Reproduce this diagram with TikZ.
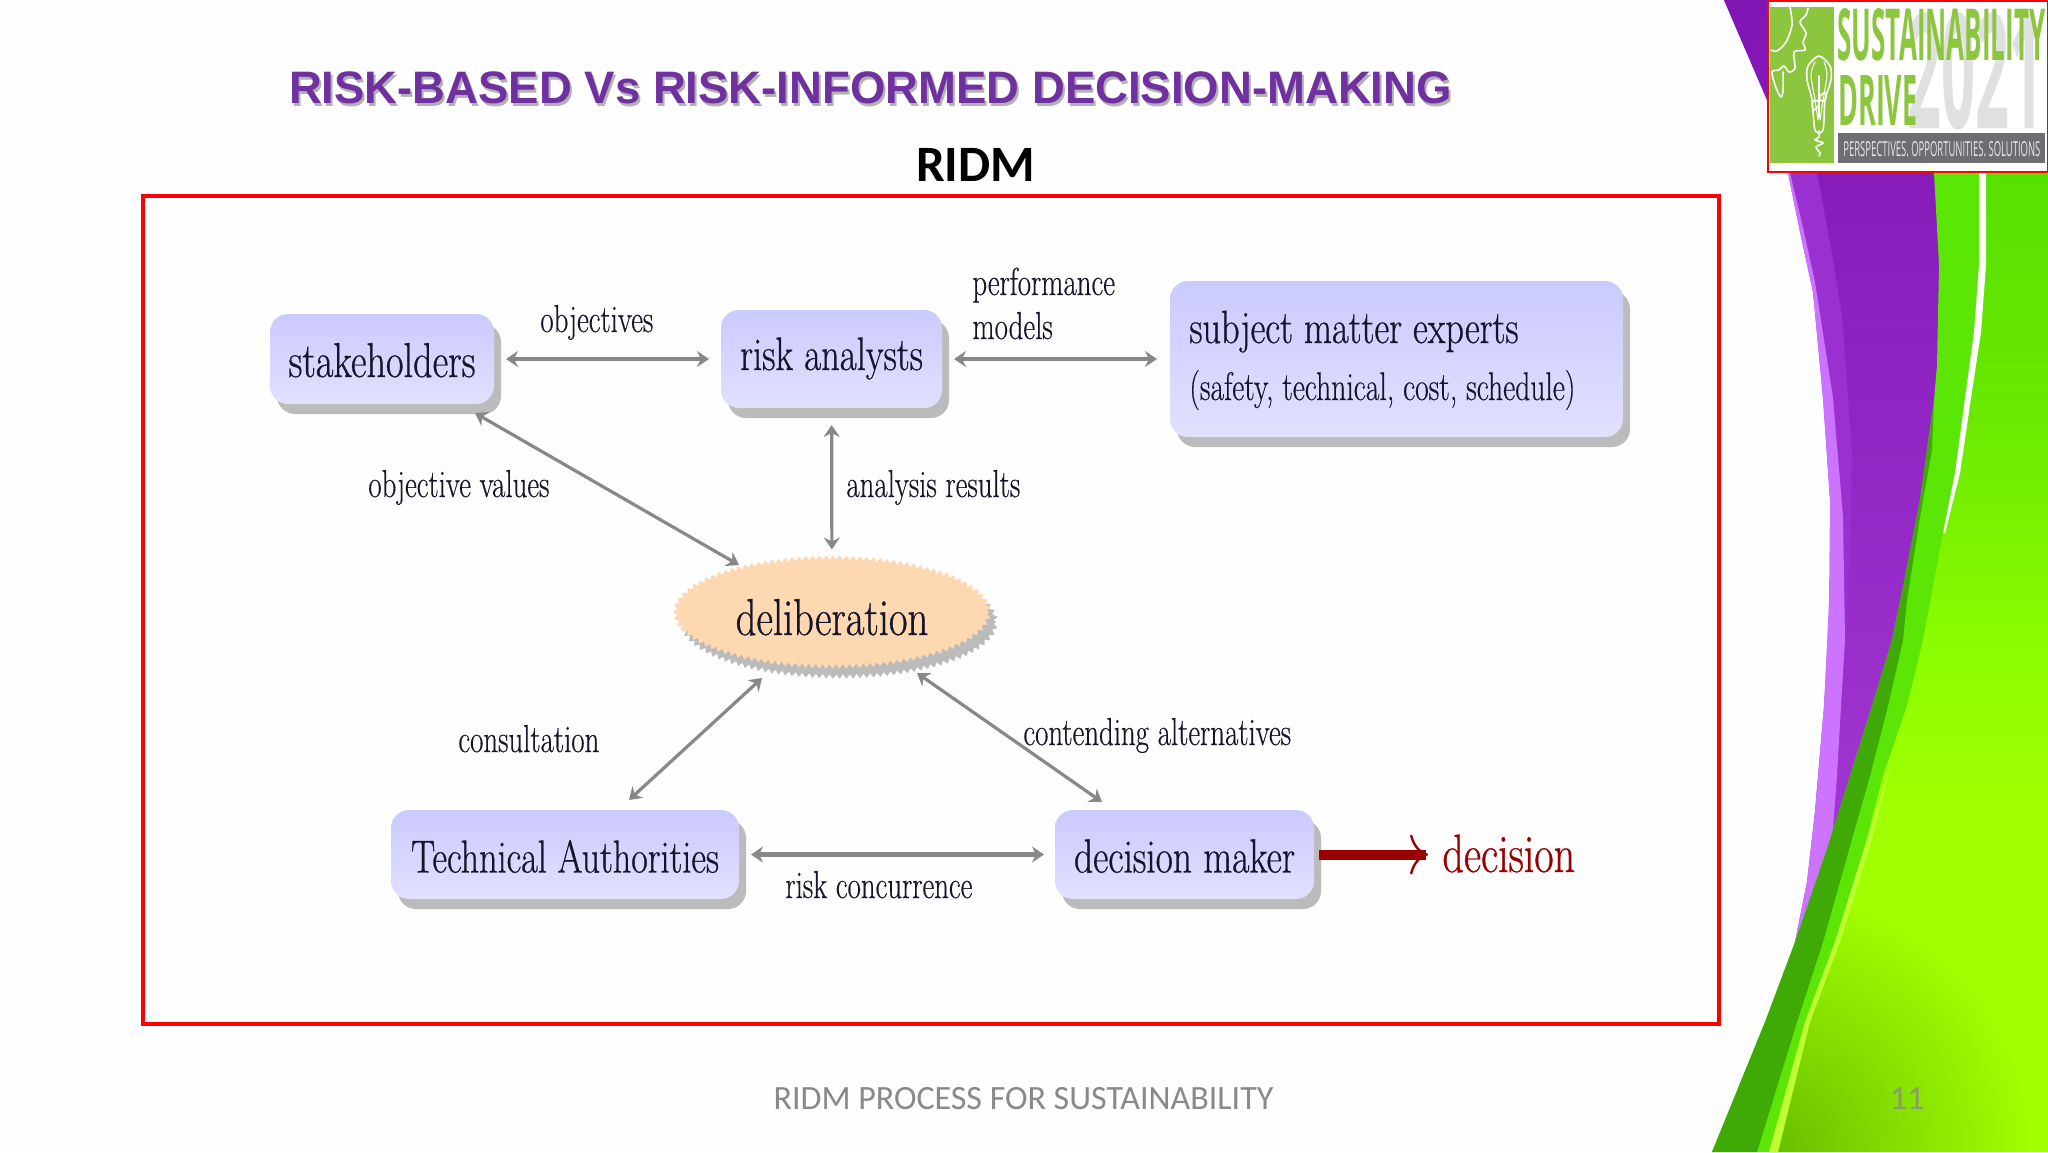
\documentclass[tikz,border=0pt]{standalone}
\usepackage{fontspec}
\usepackage{graphicx}
\usetikzlibrary{arrows.meta,shapes.geometric,shadows,decorations.pathmorphing,calc,fadings}
\newfontfamily\bigf{Latin Modern Roman}[FakeStretch=0.78,FakeBold=0.6]
\newfontfamily\smallf{Latin Modern Roman}[FakeStretch=0.74,FakeBold=0.4]
\newfontfamily\ttlf{Liberation Sans}[BoldFont={Liberation Sans Bold}]
\newfontfamily\calf{Carlito}
\newfontfamily\logof{Open Sans}
\definecolor{boxtop}{HTML}{CBCAFF}
\definecolor{boxbot}{HTML}{E1E0FF}
\definecolor{shgray}{HTML}{BBBBBB}
\definecolor{arrgray}{HTML}{888888}
\definecolor{inkc}{HTML}{15152A}
\definecolor{dred}{HTML}{990000}
\definecolor{peach}{HTML}{FDD8B0}
\definecolor{ttlp}{HTML}{7030A0}
\definecolor{frame}{HTML}{FF0000}
\definecolor{foot}{HTML}{898989}
\definecolor{pagec}{HTML}{8A9A6A}
\definecolor{logog}{HTML}{8CC63F}
\definecolor{logob}{HTML}{6D6E71}
\definecolor{wmark}{HTML}{DFE0E2}
\definecolor{pvl}{HTML}{CC73FF}
\definecolor{gdk}{HTML}{3FA905}
\definecolor{gbr}{HTML}{5CE605}
\definecolor{glm}{HTML}{BDFF33}
\definecolor{gbl}{HTML}{68BE00}
\definecolor{c1}{HTML}{A2FF00}\definecolor{c2}{HTML}{A0FF00}\definecolor{c3}{HTML}{8CFC00}
\definecolor{c4}{HTML}{68E800}\definecolor{c5}{HTML}{58E000}
\pgfdeclareverticalshading{limev}{100bp}{color(0bp)=(c1);color(25bp)=(c1);color(40bp)=(c2);color(47bp)=(c3);color(57.6bp)=(c4);color(67.5bp)=(c5);color(100bp)=(c5)}
\definecolor{p1}{HTML}{8015B4}\definecolor{p2}{HTML}{A035D2}
\definecolor{pm}{HTML}{9A30D0}
\tikzfading[name=cornerfade,inner color=transparent!0,outer color=transparent!100]
\tikzset{
  boxst/.style={rounded corners=9pt,top color=boxtop,bottom color=boxbot,inner sep=0pt,outer sep=0pt,
    text height=0pt,text depth=0pt,text=inkc,font=\bigf\fontsize{23.5pt}{26pt}\selectfont,
    general shadow={shadow xshift=3.5pt,shadow yshift=-5pt,fill=shgray}},
  delibst/.style={ellipse,inner sep=0pt,outer sep=0pt,fill=peach,text height=0pt,text depth=0pt,text=inkc,
    font=\bigf\fontsize{26pt}{28pt}\selectfont,decorate,decoration={zigzag,segment length=3.4pt,amplitude=1.1pt},
    general shadow={shadow xshift=3.5pt,shadow yshift=-5pt,fill=shgray}},
  lab/.style={anchor=base west,inner sep=0pt,text=inkc,font=\smallf\fontsize{19.5pt}{22pt}\selectfont},
  smalltwo/.style={anchor=base west,inner sep=0pt,text=inkc,font=\smallf\fontsize{20pt}{24pt}\selectfont},
  twoway/.style={arrgray,line width=1.6pt,{Stealth[length=6pt,width=8pt,inset=2pt]}-{Stealth[length=6pt,width=8pt,inset=2pt]}},
  twowayh/.style={twoway,line width=2.2pt},
  logotext/.style={anchor=north west,inner sep=0pt,text=logog,font=\logof\bfseries},
  logoline/.style={white,line width=0.8pt,line cap=round,line join=round}
}
\begin{document}
\begin{tikzpicture}[x=0.5pt,y=-0.5pt]
\useasboundingbox (0,0) rectangle (2048,1152);
\fill[white!99.5!black] (0,0) rectangle (2048,1152);
% purple swoosh
\fill[pm] (1724,0) -- (1767,100) -- (1788,173) -- (1800,232) -- (1813,292) -- (1823,398) -- (1830,500) -- (1830,600) -- (1824,706) -- (1815,811) -- (1807,882) -- (1795,942) -- (1900,942) -- (1960,600) -- (1960,0) -- cycle;
\shade[top color=p1,bottom color=p2] (1724,0) -- (1767,100) -- (1790,150) -- (1817,173) -- (1830,242) -- (1842,315) -- (1848,398) -- (1852,450) -- (1851,520) -- (1846,640) -- (1841,706) -- (1837,776) -- (1833,829) -- (1900,829) -- (1960,600) -- (1960,0) -- cycle;
\fill[pvl] (1795,942) -- (1807,882) -- (1815,811) -- (1824,706) -- (1829,600) -- (1830,500) -- (1823,398) -- (1813,292) -- (1800,232) -- (1788,173)
  -- (1790,173) -- (1804,232) -- (1815,282) -- (1833,398) -- (1843,517) -- (1845,640) -- (1841,706) -- (1837,776) -- (1833,829) -- (1815,890) -- cycle;
% green swoosh
\fill[gbr] (1925,0) -- (1934,173) -- (1939,265) -- (1937,365) -- (1934,400) -- (1920,500) -- (1903,587) -- (1892,640) -- (1872,706) -- (1850,776) -- (1828,846) -- (1795,942) -- (1765,1022) -- (1712,1152) -- (2048,1152) -- (2048,0) -- cycle;
\fill[gdk] (1934,400) -- (1920,500) -- (1903,587) -- (1892,640) -- (1872,706) -- (1850,776) -- (1828,846) -- (1795,942) -- (1765,1022) -- (1712,1152) -- (1757,1152) -- (1797,1022) -- (1823,942) -- (1850,846) -- (1870,776) -- (1888,706) -- (1903,640) -- (1907,600) -- (1920,517) -- (1932,450) -- cycle;
\shade[shading=limev] (1985,0) -- (1982,173) -- (1982,265) -- (1977,332) -- (1968,398) -- (1958,473) -- (1943,533) -- (1923,640) -- (1907,706) -- (1883,776) -- (1865,846) -- (1835,942) -- (1805,1022) -- (1769,1152) -- (2048,1152) -- (2048,0) -- cycle;
\begin{scope}
  \clip (1865,846) -- (1835,942) -- (1805,1022) -- (1769,1152) -- (2048,1152) -- (2048,846) -- cycle;
  \fill[gbl,path fading=cornerfade] (1770,1152) circle[radius=260];
\end{scope}
\fill[white] (1979,172) -- (1986,172) -- (1986,265) -- (1981,332) -- (1971,398) -- (1960,473) -- (1945,533) -- (1943,533) -- (1955,473) -- (1965,398) -- (1974,332) -- (1979,265) -- cycle;
\fill[glm] (1892,760) -- (1870,846) -- (1840,942) -- (1810,1022) -- (1778,1152) -- (1769,1152) -- (1805,1022) -- (1835,942) -- (1865,846) -- cycle;
% logo
\fill[white,draw=frame,line width=1pt] (1767.5,0.5) rectangle (2047.5,172);
\node[anchor=north west,inner sep=0pt,text=wmark,font=\logof\bfseries] (wm) at (1907,12) {\resizebox{68pt}{58pt}{2021}};
\fill[logog] (1770,7) rectangle (1834,163);
\node[logotext] (sus) at (1837,8) {\resizebox{104pt}{26pt}{SUSTAINABILITY}};
\node[logotext] (drv) at (1838,75) {\resizebox{39.5pt}{25pt}{DRIVE}};
\fill[logob] (1838,133) rectangle (2045,163);
\node[anchor=north west,inner sep=0pt,text=white!90!black,font=\logof] (per) at (1843,141) {\resizebox{98.5pt}{7.5pt}{PERSPECTIVES. OPPORTUNITIES. SOLUTIONS}};
\draw[logoline] plot[smooth] coordinates {(1790,7) (1792,25) (1786,42) (1777,51) (1771,50)};
\draw[logoline] plot[smooth] coordinates {(1808,8) (1806,15) (1800,22) (1806,33) (1803,42) (1805,50) (1794,52) (1795,68) (1789,72) (1784,66) (1779,70) (1772,72) (1776,88) (1781,97) (1783,90) (1783,72)};
\draw[logoline] plot[smooth cycle] coordinates {(1819,56) (1830,66) (1831,80) (1825,100) (1823,130) (1815,130) (1812,100) (1807,80) (1808,66)};
\draw[logoline,line width=0.5pt] plot[smooth] coordinates {(1815,62) (1811,75) (1815,100) (1818,120)};
\draw[logoline,line width=0.5pt] plot[smooth] coordinates {(1824,62) (1827,75) (1823,100) (1820,120)};
\draw[logoline] (1819,76) -- (1819,118);
\draw[logoline] (1819,102) .. controls (1812,97) and (1811,104) .. (1813,110) .. controls (1817,110) and (1819,106) .. (1819,102);
\draw[logoline] (1819,98) .. controls (1824,90) and (1827,92) .. (1826,98) .. controls (1824,102) and (1821,102) .. (1819,98);
\draw[logoline] plot[smooth] coordinates {(1819,131) (1819,137) (1815,140) (1823,143) (1816,147) (1820,153) (1819,156)};
% headings
\node[inner sep=0pt,text=black!30,font=\ttlf\bfseries\fontsize{22.75pt}{26pt}\selectfont] (ttls) at (872.5,91) {RISK-BASED Vs RISK-INFORMED DECISION-MAKING};
\node[inner sep=0pt,text=ttlp,font=\ttlf\bfseries\fontsize{22.75pt}{26pt}\selectfont] (ttl) at (870.5,88) {RISK-BASED Vs RISK-INFORMED DECISION-MAKING};
\node[anchor=base,inner sep=0pt,text=black,font=\calf\bfseries\fontsize{25.5pt}{28pt}\selectfont] (ridm) at (975.5,181) {RIDM};
% frame
\draw[frame,line width=1.8pt] (143,196) rectangle (1719,1024);
% nodes
\node[boxst,minimum width=112pt,minimum height=45pt,font=\bigf\fontsize{24.5pt}{26pt}\selectfont] (stk) at (382,359) {\raisebox{-9pt}{stakeholders}};
\node[boxst,minimum width=110.5pt,minimum height=49pt] (ra) at (831.5,359) {\raisebox{-5.5pt}{risk analysts}};
\node[boxst,minimum width=226.5pt,minimum height=78pt] (sme) at (1396.5,359) {};
\node[anchor=base west,inner sep=0pt,text=inkc,font=\bigf\fontsize{23.3pt}{26pt}\selectfont] (sme1) at (1189,343) {subject matter experts};
\node[smalltwo] (sme2) at (1189,400) {(safety, technical, cost, schedule)};
\node[delibst,minimum width=157pt,minimum height=54.5pt] (del) at (832,612) {\raisebox{-11.5pt}{deliberation}};
\node[boxst,minimum width=174pt,minimum height=44.5pt,font=\bigf\fontsize{23.1pt}{26pt}\selectfont] (ta) at (565,854.5) {\raisebox{-9pt}{Technical Authorities}};
\node[boxst,minimum width=129.5pt,minimum height=44.5pt,font=\bigf\fontsize{24pt}{26pt}\selectfont] (dm) at (1184.5,854.5) {\raisebox{-9pt}{decision maker}};
\node[anchor=base west,inner sep=0pt,text=dred,font=\bigf\fontsize{27pt}{30pt}\selectfont] (dec) at (1442,872) {decision};
% labels
\node[lab] (l1) at (540,332) {objectives};
\node[lab] (l2a) at (972,295) {performance};
\node[lab] (l2b) at (972,339) {models};
\node[lab] (l3) at (368,497) {objective values};
\node[lab] (l4) at (846,497) {analysis results};
\node[lab] (l5) at (458,752) {consultation};
\node[lab] (l6) at (1023,745) {contending alternatives};
\node[lab] (l7) at (785,898) {risk concurrence};
% connectors
\draw[twowayh,shorten <=6pt,shorten >=6pt] (stk) -- (ra);
\draw[twowayh,shorten <=6pt,shorten >=6.5pt] (ra) -- (sme);
\draw[twoway,shorten <=8.5pt,shorten >=4pt] (ra) -- (del);
\draw[twoway] ($(stk.south east)+(-19,9)$) -- ($(del)+(-93,-47)$);
\draw[twoway] ($(ta.north)+(64,-10)$) -- ($(del)+(-70,66)$);
\draw[twoway] ($(dm.north)+(-82.5,-8)$) -- ($(del)+(85,61)$);
\draw[twowayh,shorten <=6pt,shorten >=5.5pt] (ta) -- (dm);
\draw[dred,line width=5pt,-{Computer Modern Rightarrow[length=9pt,width=20pt,line width=1.2pt]},shorten <=2.5pt,shorten >=7pt] (dm.east) -- (dm.east -| dec.west);
% footer
\node[inner sep=0pt,text=foot,font=\calf\fontsize{17pt}{20pt}\selectfont] (ft) at (1023.5,1099) {RIDM PROCESS FOR SUSTAINABILITY};
\node[inner sep=0pt,text=pagec,font=\calf\fontsize{17pt}{20pt}\selectfont] (pg) at (1907,1099) {11};
\end{tikzpicture}
\end{document}
